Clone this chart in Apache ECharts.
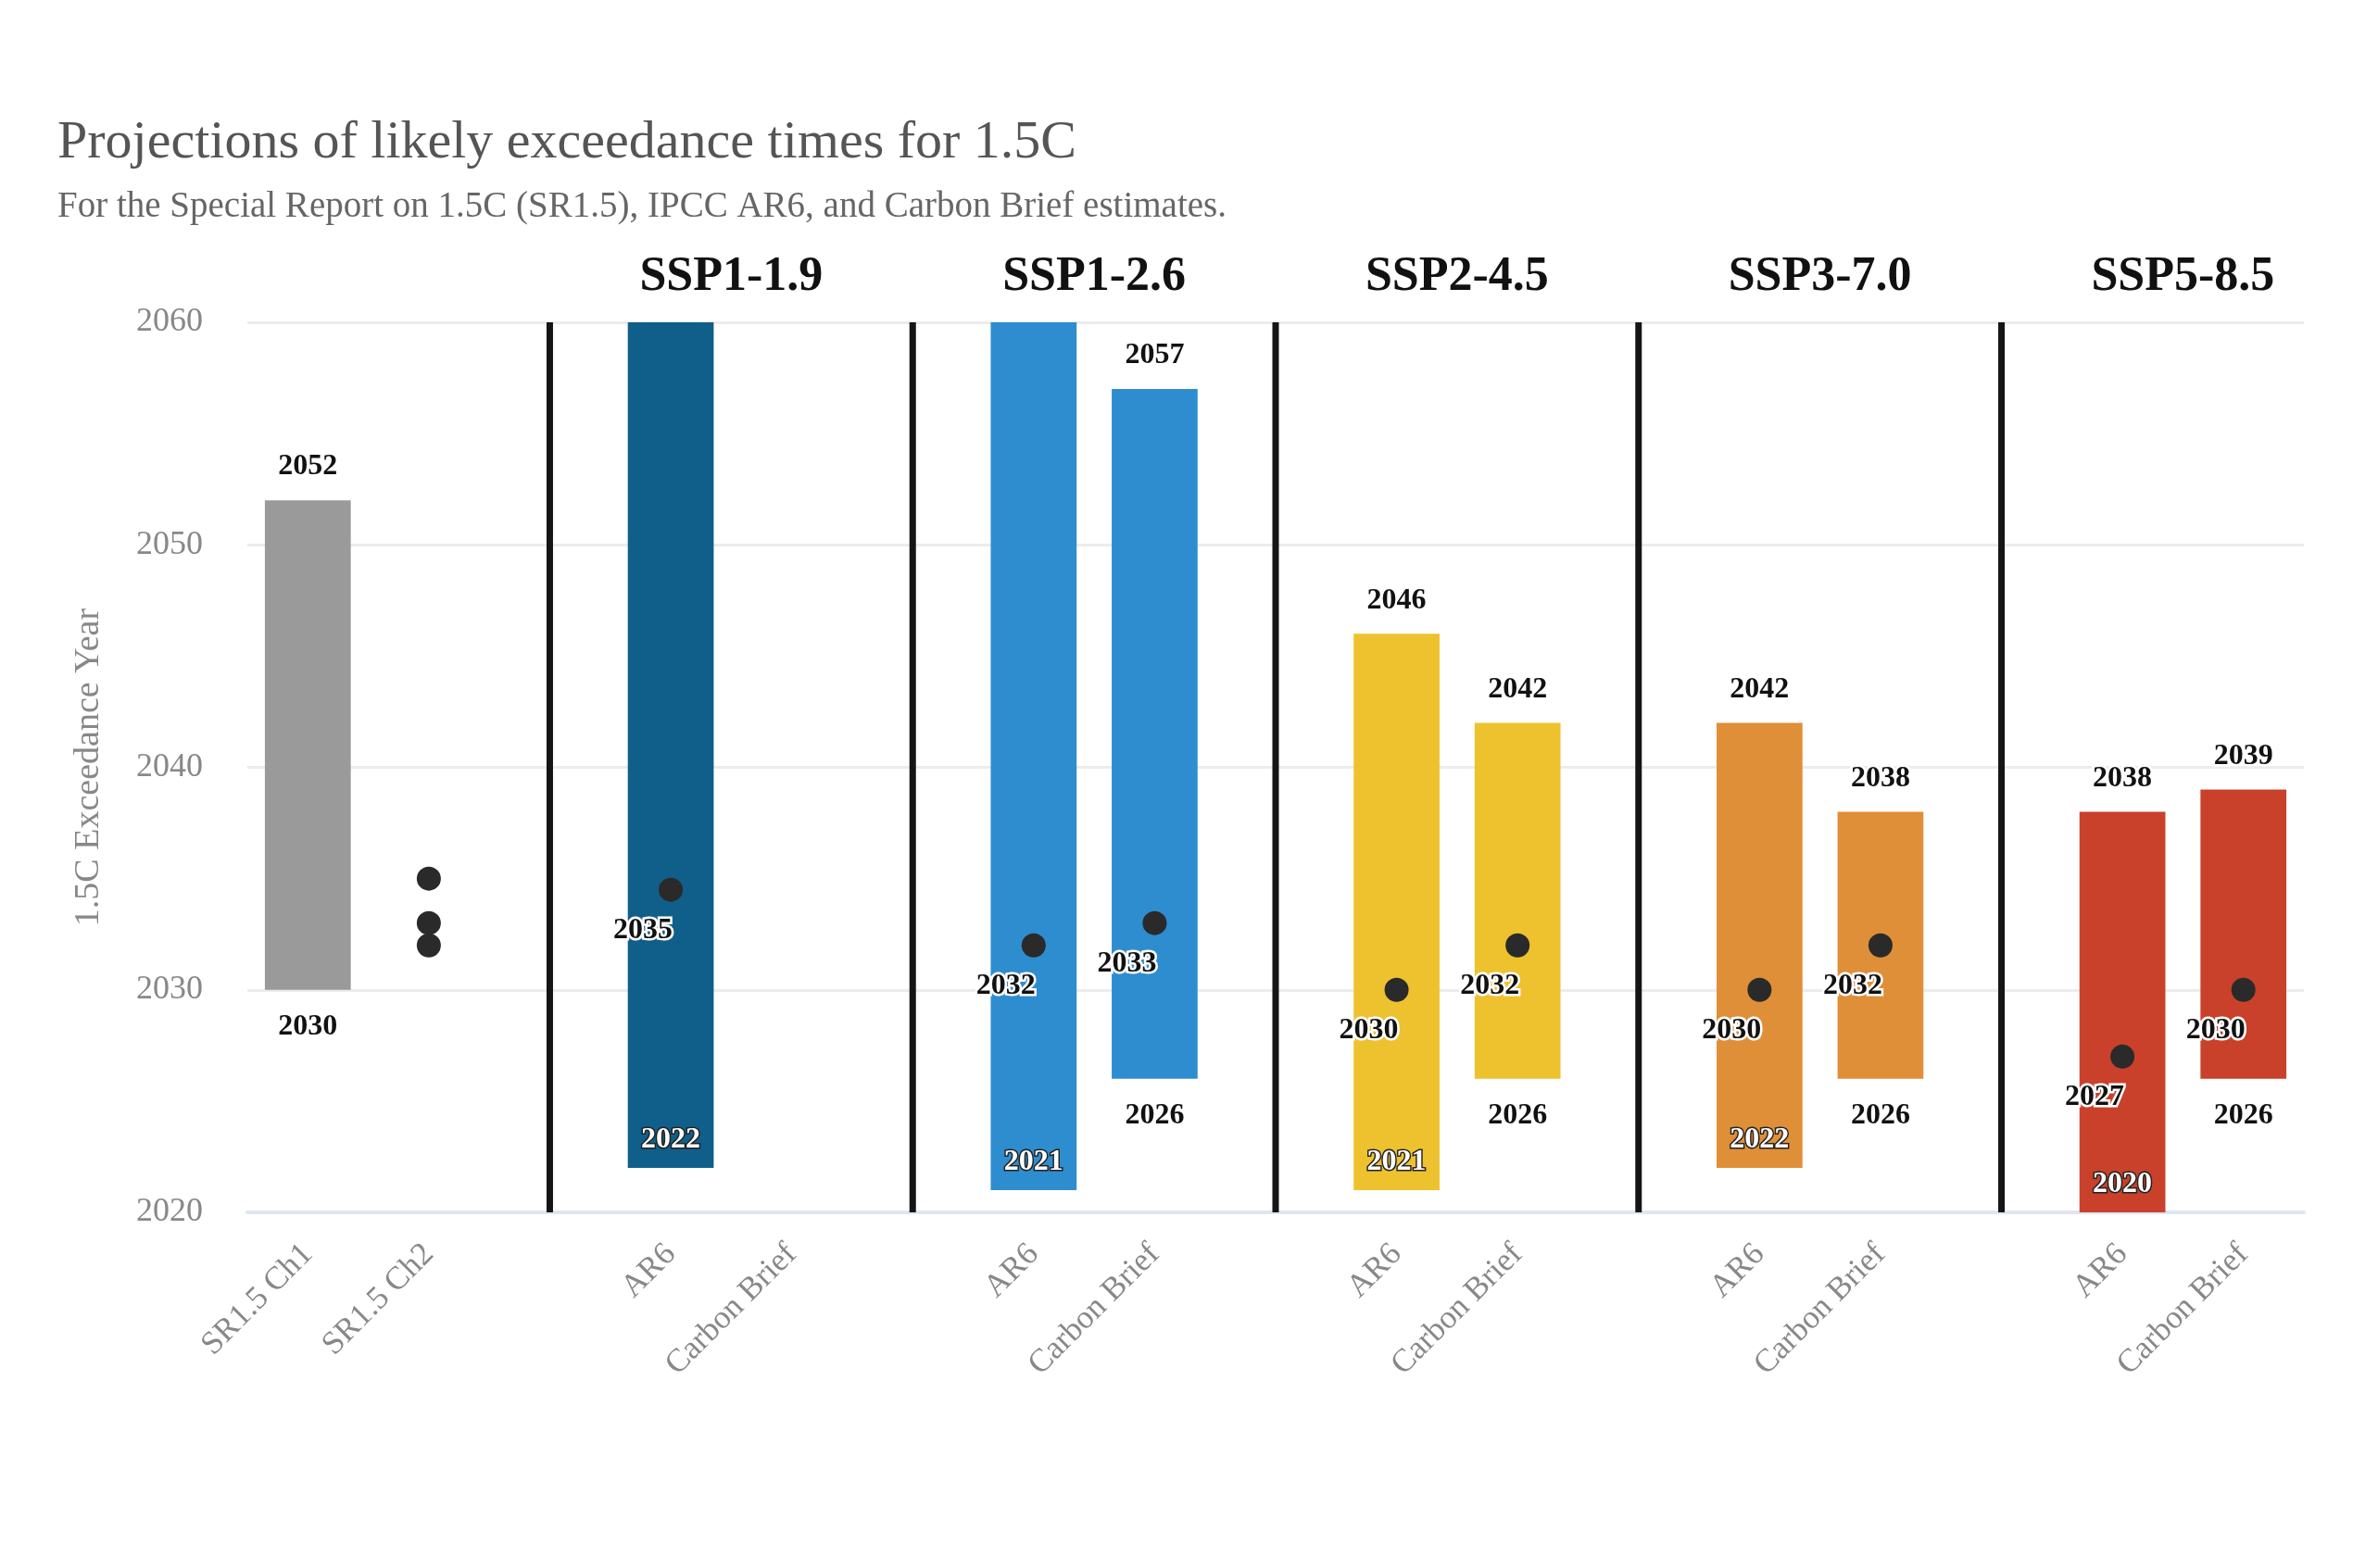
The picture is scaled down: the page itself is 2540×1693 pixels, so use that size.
<!DOCTYPE html>
<html>
<head>
<meta charset="utf-8">
<title>Projections of likely exceedance times for 1.5C</title>
<script src="https://cdn.jsdelivr.net/npm/echarts@6/dist/echarts.min.js"></script>
<style>
  html, body { margin: 0; padding: 0; background: #fff; }
  #chart { width: 2540px; height: 1693px; }
</style>
</head>
<body>
<div id="chart"></div>
<script>
// categories along the x axis ('' = scenario divider)
const categories = ["SR1.5 Ch1", "SR1.5 Ch2", "", "AR6", "Carbon Brief", "", "AR6", "Carbon Brief", "", "AR6", "Carbon Brief", "", "AR6", "Carbon Brief", "", "AR6", "Carbon Brief"];
const scenarios = ["SSP1-1.9", "SSP1-2.6", "SSP2-4.5", "SSP3-7.0", "SSP5-8.5"];
// likely range (null high = runs past the top of the chart)
const rangeLow = [2030, null, null, 2022, null, null, 2021, 2026, null, 2021, 2026, null, 2022, 2026, null, 2020, 2026];
const rangeHigh = [2052, null, null, null, null, null, null, 2057, null, 2046, 2042, null, 2042, 2038, null, 2038, 2039];
// central estimates
const medians = [null, null, null, 2034.5, null, null, 2032, 2033, null, 2030, 2032, null, 2030, 2032, null, 2027, 2030];
const ch2Points = [2035, 2033, 2032];
const yTicks = [2020, 2030, 2040, 2050, 2060];

const barColors = ["#9a9a9a", null, null, "#0f5f8a", null, null, "#2e8dcf", "#2e8dcf", null, "#eec22f", "#eec22f", null, "#df8f37", "#df8f37", null, "#c9412a", "#c9412a"];

const yMin = yTicks[0];
const yMax = yTicks[yTicks.length - 1];
const serif = "'Liberation Serif', 'DejaVu Serif', serif";

const rangeData = [];
rangeLow.forEach((lo, i) => {
  if (lo == null) return;
  const hi = rangeHigh[i];
  rangeData.push([i, lo, hi == null ? yMax : hi, hi == null ? 0 : 1]);
});

const dotData = [];
medians.forEach((m, i) => {
  if (m != null) dotData.push({ value: [i, m], label: { show: true } });
});
ch2Points.forEach((v) => dotData.push({ value: [1, v], label: { show: false } }));

const dividerData = categories.map((c) => (c === "" ? yMax : "-"));

// header axis: scenario name sits midway between its AR6 and Carbon Brief columns
const headerSlots = new Array(categories.length * 2 + 1).fill("");
scenarios.forEach((s, k) => { headerSlots[8 + k * 6] = s; });

function labelText(x, y, text, inside) {
  return {
    type: "text",
    x: x,
    y: y,
    z2: 10,
    style: {
      text: text,
      align: "center",
      verticalAlign: "middle",
      font: "bold 32px " + serif,
      fill: inside ? "#fff" : "#111",
      stroke: inside ? "#222" : "#fff",
      lineWidth: inside ? 3 : 5,
      strokeFirst: true
    }
  };
}

const options = {
  backgroundColor: "#fff",
  title: {
    text: "Projections of likely exceedance times for 1.5C",
    subtext: "For the Special Report on 1.5C (SR1.5), IPCC AR6, and Carbon Brief estimates.",
    left: 62,
    top: 126,
    padding: 0,
    itemGap: 20,
    textStyle: { fontFamily: serif, fontSize: 58, fontWeight: "normal", color: "#555" },
    subtextStyle: { fontFamily: serif, fontSize: 39, color: "#666" }
  },
  grid: { left: 267, right: 53, top: 348, bottom: 384 },
  xAxis: [
    {
      type: "category",
      data: categories,
      axisTick: { show: false },
      axisLine: { show: true, lineStyle: { color: "#dfe5f2", width: 4 } },
      axisLabel: {
        interval: 0,
        rotate: 45,
        margin: 40,
        fontFamily: serif,
        fontSize: 35,
        color: "#888"
      }
    },
    {
      type: "category",
      position: "top",
      boundaryGap: false,
      data: headerSlots,
      axisTick: { show: false },
      axisLine: { show: false },
      axisLabel: {
        interval: 0,
        margin: 22,
        fontFamily: serif,
        fontSize: 52,
        fontWeight: "bold",
        color: "#111"
      }
    }
  ],
  yAxis: {
    type: "value",
    min: yMin,
    max: yMax,
    interval: 10,
    name: "1.5C Exceedance Year",
    nameLocation: "middle",
    nameGap: 152,
    nameTextStyle: { fontFamily: serif, fontSize: 38, color: "#888" },
    axisLabel: {
      margin: 48,
      fontFamily: serif,
      fontSize: 36,
      color: "#888",
      formatter: (v) => String(v)
    },
    axisLine: { show: false },
    axisTick: { show: false },
    splitLine: { lineStyle: { color: "#ececec", width: 3 } }
  },
  series: [
    {
      name: "divider",
      type: "bar",
      data: dividerData,
      barWidth: 7,
      itemStyle: { color: "#151515" },
      silent: true,
      z: 3
    },
    {
      name: "likely range",
      type: "custom",
      data: rangeData,
      encode: { x: 0, y: [1, 2] },
      z: 4,
      renderItem: function (params, api) {
        const i = api.value(0);
        const lo = api.value(1);
        const hi = api.value(2);
        const closedTop = api.value(3) === 1;
        const pLo = api.coord([i, lo]);
        const pHi = api.coord([i, hi]);
        const w = api.size([1, 0])[0] * 0.71;
        const cx = pLo[0];
        const children = [{
          type: "rect",
          shape: { x: cx - w / 2, y: pHi[1], width: w, height: pLo[1] - pHi[1] },
          style: { fill: barColors[i] }
        }];
        if (closedTop) children.push(labelText(cx, pHi[1] - 36, String(hi), false));
        const inside = lo - yMin < 3;
        children.push(inside
          ? labelText(cx, pLo[1] - 30, String(lo), true)
          : labelText(cx, pLo[1] + 40, String(lo), false));
        return { type: "group", children: children };
      }
    },
    {
      name: "central estimate",
      type: "scatter",
      data: dotData,
      symbolSize: 26,
      itemStyle: { color: "#2a2a2a", opacity: 1 },
      z: 5,
      label: {
        position: "inside",
        offset: [-30, 44],
        formatter: (p) => String(Math.round(p.value[1])),
        fontFamily: serif,
        fontSize: 32,
        fontWeight: "bold",
        color: "#111",
        textBorderColor: "#fff",
        textBorderWidth: 5
      }
    }
  ]
};

const chart = echarts.init(document.getElementById("chart"));
chart.setOption(options);
window.addEventListener("resize", () => {
  chart.resize();
});
</script>
</body>
</html>
